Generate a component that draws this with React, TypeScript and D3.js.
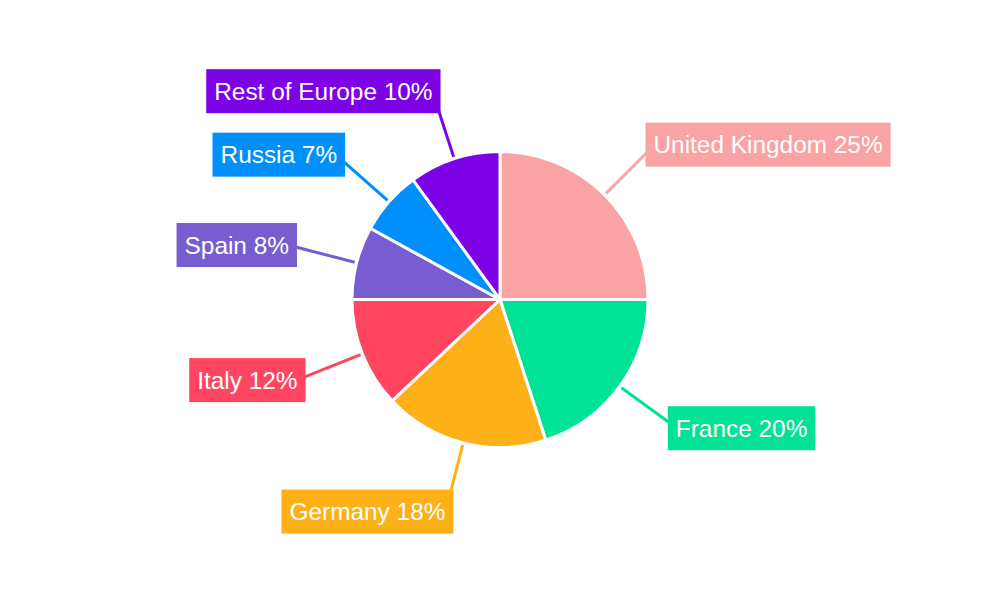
import React, { useEffect, useRef } from "react";
import * as d3 from "d3";

const categories = ["United Kingdom", "France", "Germany", "Italy", "Spain", "Russia", "Rest of Europe"];
const values = [25, 20, 18, 12, 8, 7, 10];
const colors = ["#F9A3A4", "#00E396", "#FEB019", "#FF4560", "#775DD0", "#008FFB", "#7D02E6"];

export default function App() {
  const ref = useRef<SVGSVGElement | null>(null);
  useEffect(() => {
    document.body.style.margin = "0";
    const svg = d3.select(ref.current);
    svg.selectAll("*").remove();
    const cx = 500, cy = 299.5, r = 148;
    const g = svg.append("g").attr("transform", `translate(${cx},${cy})`);
    const total = d3.sum(values);
    const pie = d3.pie<number>().sort(null).value((d) => d).startAngle(0).endAngle(2 * Math.PI);
    const arcs = pie(values);
    const arc = d3.arc<d3.PieArcDatum<number>>().innerRadius(0).outerRadius(r);

    g.selectAll("path.slice")
      .data(arcs)
      .join("path")
      .attr("class", "slice")
      .attr("d", arc)
      .attr("fill", (_, i) => colors[i])
      .attr("stroke", "#fff")
      .attr("stroke-width", 3)
      .attr("stroke-linejoin", "round");

    const r1 = 150, r2 = 210;
    arcs.forEach((a, i) => {
      const m = (a.startAngle + a.endAngle) / 2;
      const dx = Math.sin(m), dy = -Math.cos(m);
      g.append("line")
        .attr("x1", r1 * dx).attr("y1", r1 * dy)
        .attr("x2", r2 * dx).attr("y2", r2 * dy)
        .attr("stroke", colors[i]).attr("stroke-width", 3);
      const ax = r2 * dx, ay = r2 * dy;
      const lg = g.append("g");
      const rect = lg.append("rect");
      const label = `${categories[i]} ${Math.round((values[i] / total) * 100)}%`;
      const txt = lg.append("text")
        .text(label)
        .attr("font-family", "'Liberation Sans', Arial, sans-serif")
        .attr("font-size", 24.4)
        .attr("fill", "#fff");
      const w = (txt.node() as SVGTextElement).getComputedTextLength() + 16;
      const h = 44;
      const inward = 6 * dy * dy;
      const x0 = dx >= 0 ? ax - inward : ax + inward - w;
      const yc = ay + 9 * dy;
      rect.attr("x", x0).attr("y", yc - h / 2).attr("width", w).attr("height", h).attr("fill", colors[i]);
      txt.attr("x", x0 + 8).attr("y", yc + 8.5);
    });
  }, []);
  return <svg ref={ref} width={1000} height={600} style={{ display: "block", background: "#fff" }} />;
}
